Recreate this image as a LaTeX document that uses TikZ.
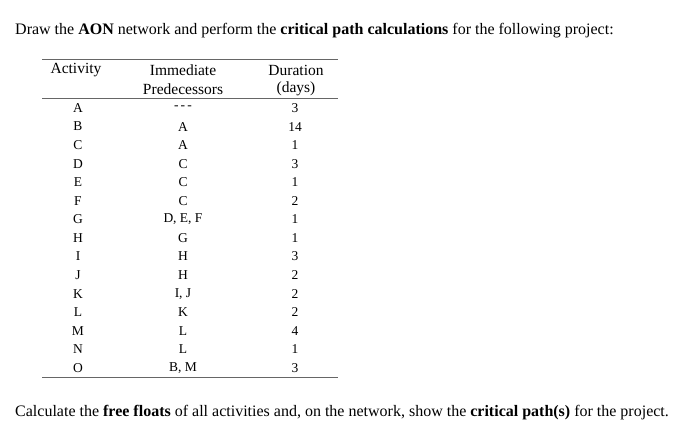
\documentclass[tikz,border=0pt]{standalone}
\usepackage{fontspec}
\setmainfont{Liberation Serif}
\begin{document}
\begin{tikzpicture}[x=1pt,y=-1pt,
  cell/.style={inner sep=0pt,anchor=center,font=\fontsize{13.5}{15}\selectfont},
  head/.style={inner sep=0pt,anchor=center,font=\fontsize{15.5}{17}\selectfont},
  txt/.style={inner sep=0pt,anchor=west,font=\fontsize{16}{18}\selectfont},
  rulel/.style={draw=black!60,line width=0.9pt}]
\useasboundingbox (0,0) rectangle (700,433);
\node[txt] (title) at (15,31) {Draw the \textbf{AON} network and perform the \textbf{critical path calculations} for the following project:};
\coordinate (t1) at (42,59); \coordinate (t2) at (338,59);
\coordinate (m1) at (42,98); \coordinate (m2) at (338,98);
\coordinate (b1) at (42,377); \coordinate (b2) at (338,377);
\draw[rulel] (t1) -- (t2);
\draw[rulel] (m1) -- (m2);
\draw[rulel] (b1) -- (b2);
\node[head] (h1) at (76,70) {Activity};
\node[head] (h2a) at (183,70) {Immediate};
\node[head] (h2b) at (183,89) {Predecessors};
\node[head] (h3a) at (296,70) {Duration};
\node[head] (h3b) at (296,89) {(days)};
\foreach \a/\p/\d [count=\i from 0] in {A/{-\,-\,-}/3,B/A/14,C/A/1,D/C/3,E/C/1,F/C/2,G/{D, E, F}/1,H/G/1,I/H/3,J/H/2,K/{I, J}/2,L/K/2,M/L/4,N/L/1,O/{B, M}/3}{
  \node[cell] (a\i) at (78,108+\i*18.57) {\a};
  \node[cell] (p\i) at (183,108+\i*18.57) {\p};
  \node[cell] (d\i) at (295,108+\i*18.57) {\d};
}
\node[txt] (foot) at (15,413) {Calculate the \textbf{free floats} of all activities and, on the network, show the \textbf{critical path(s)} for the project.};
\end{tikzpicture}
\end{document}
